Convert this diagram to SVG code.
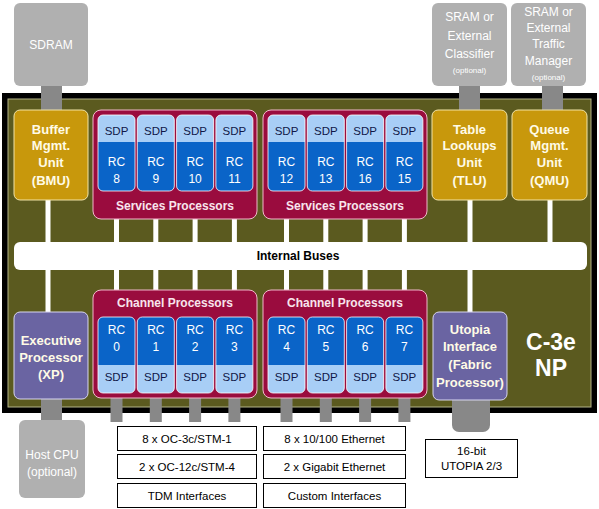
<svg xmlns="http://www.w3.org/2000/svg" xmlns:xlink="http://www.w3.org/1999/xlink" width="599" height="509" viewBox="0 0 599 509">
<style>
.ext{fill:#b0b0b0}
.extT{font-family:"Liberation Sans",Arial,sans-serif;font-size:12px;fill:#ffffff;text-anchor:middle}
.opt{font-family:"Liberation Sans",Arial,sans-serif;font-size:8px;fill:#ffffff;text-anchor:middle}
.gold{fill:#c8980c;stroke:#f3e4a6;stroke-width:1}
.purple{fill:#6a64a2;stroke:#d8d6f0;stroke-width:1}
.unitT{font-family:"Liberation Sans",Arial,sans-serif;font-size:13px;font-weight:bold;fill:#fffbe6;text-anchor:middle}
.grp{fill:#9a0c3e;stroke:#f2b8cc;stroke-width:1}
.grpT{font-family:"Liberation Sans",Arial,sans-serif;font-size:12px;font-weight:bold;fill:#f8e4ec;text-anchor:middle}
.light{fill:#a8cef6}
.blue{fill:#0a64c8}
.cellO{fill:none;stroke:#ffffff;stroke-width:0.8}
.sdpT{font-family:"Liberation Sans",Arial,sans-serif;font-size:11.5px;fill:#101848;text-anchor:middle}
.rcT{font-family:"Liberation Sans",Arial,sans-serif;font-size:12px;fill:#ffffff;text-anchor:middle}
.wl{stroke:#ffffff;stroke-width:5}
.gc{fill:#888888}
.ifb{fill:#ffffff;stroke:#000000;stroke-width:1}
.ifT{font-family:"Liberation Sans",Arial,sans-serif;font-size:11.5px;fill:#000000;text-anchor:middle}
</style>
<defs>
<g id="scell">
<path class="light" d="M0,5 a5,5 0 0 1 5,-5 h27 a5,5 0 0 1 5,5 v22 h-37 z"/>
<path class="blue" d="M0,27 h37 v44 a5,5 0 0 1 -5,5 h-27 a5,5 0 0 1 -5,-5 z"/>
<rect class="cellO" x="0" y="0" width="37" height="76" rx="5"/>
</g>
<g id="ccell">
<path class="blue" d="M0,5 a5,5 0 0 1 5,-5 h27 a5,5 0 0 1 5,5 v43 h-37 z"/>
<path class="light" d="M0,48 h37 v23 a5,5 0 0 1 -5,5 h-27 a5,5 0 0 1 -5,-5 z"/>
<rect class="cellO" x="0" y="0" width="37" height="76" rx="5"/>
</g>
</defs>

<rect id="chip-border" x="2" y="93" width="595" height="320" fill="#000000"/>
<rect id="chip" x="8" y="99" width="583" height="308" fill="#5b5a1f" stroke="#b4b48a" stroke-width="1"/>

<g id="connectors">
<line class="wl" x1="48" y1="200" x2="48" y2="312"/>
<line class="wl" x1="116.5" y1="218" x2="116.5" y2="290"/>
<line class="wl" x1="155.8" y1="218" x2="155.8" y2="290"/>
<line class="wl" x1="195.1" y1="218" x2="195.1" y2="290"/>
<line class="wl" x1="234.4" y1="218" x2="234.4" y2="290"/>
<line class="wl" x1="286.5" y1="218" x2="286.5" y2="290"/>
<line class="wl" x1="325.8" y1="218" x2="325.8" y2="290"/>
<line class="wl" x1="365.1" y1="218" x2="365.1" y2="290"/>
<line class="wl" x1="404.4" y1="218" x2="404.4" y2="290"/>
<line class="wl" x1="470" y1="200" x2="470" y2="312"/>
<line class="wl" x1="550" y1="200" x2="550" y2="242"/>
<rect class="gc" x="41" y="86" width="21" height="25"/>
<rect class="gc" x="459" y="86" width="21" height="25"/>
<rect class="gc" x="542" y="86" width="21" height="25"/>
<rect class="gc" x="41" y="398" width="21" height="23"/>
<rect class="gc" x="110.5" y="392" width="12" height="30"/>
<rect class="gc" x="149.8" y="392" width="12" height="30"/>
<rect class="gc" x="189.1" y="392" width="12" height="30"/>
<rect class="gc" x="228.4" y="392" width="12" height="30"/>
<rect class="gc" x="280.5" y="392" width="12" height="30"/>
<rect class="gc" x="319.8" y="392" width="12" height="30"/>
<rect class="gc" x="359.1" y="392" width="12" height="30"/>
<rect class="gc" x="398.4" y="392" width="12" height="30"/>
<path class="gc" d="M452,398 h38 v27 a7,7 0 0 1 -7,7 h-24 a7,7 0 0 1 -7,-7 z"/>
</g>

<g id="sdram">
<rect class="ext" x="14" y="3" width="74" height="83" rx="6"/>
<text class="extT" x="51" y="49">SDRAM</text>
</g>
<g id="sram-classifier">
<rect class="ext" x="432" y="3" width="75" height="83" rx="6"/>
<text class="extT" x="469.5" y="21">SRAM or</text>
<text class="extT" x="469.5" y="40">External</text>
<text class="extT" x="469.5" y="58">Classifier</text>
<text class="opt" x="469.5" y="73">(optional)</text>
</g>
<g id="sram-traffic">
<rect class="ext" x="511" y="3" width="75" height="83" rx="6"/>
<text class="extT" x="548.5" y="16">SRAM or</text>
<text class="extT" x="548.5" y="32">External</text>
<text class="extT" x="548.5" y="48">Traffic</text>
<text class="extT" x="548.5" y="65">Manager</text>
<text class="opt" x="548.5" y="80">(optional)</text>
</g>

<g id="bmu">
<rect class="gold" x="14" y="110" width="74" height="90" rx="6"/>
<text class="unitT" x="51" y="134">Buffer</text>
<text class="unitT" x="51" y="150">Mgmt.</text>
<text class="unitT" x="51" y="167">Unit</text>
<text class="unitT" x="51" y="185">(BMU)</text>
</g>
<g id="tlu">
<rect class="gold" x="432" y="110" width="75" height="90" rx="6"/>
<text class="unitT" x="469.5" y="134">Table</text>
<text class="unitT" x="469.5" y="150">Lookups</text>
<text class="unitT" x="469.5" y="167">Unit</text>
<text class="unitT" x="469.5" y="185">(TLU)</text>
</g>
<g id="qmu">
<rect class="gold" x="512" y="110" width="75" height="90" rx="6"/>
<text class="unitT" x="549.5" y="134">Queue</text>
<text class="unitT" x="549.5" y="150">Mgmt.</text>
<text class="unitT" x="549.5" y="167">Unit</text>
<text class="unitT" x="549.5" y="185">(QMU)</text>
</g>

<g id="services-1">
<rect class="grp" x="93" y="110" width="164" height="109" rx="8"/>
<use xlink:href="#scell" x="98" y="115"/>
<use xlink:href="#scell" x="137.3" y="115"/>
<use xlink:href="#scell" x="176.6" y="115"/>
<use xlink:href="#scell" x="215.9" y="115"/>
<text class="sdpT" x="116.5" y="135">SDP</text>
<text class="sdpT" x="155.8" y="135">SDP</text>
<text class="sdpT" x="195.1" y="135">SDP</text>
<text class="sdpT" x="234.4" y="135">SDP</text>
<text class="rcT" x="116.5" y="166">RC</text>
<text class="rcT" x="155.8" y="166">RC</text>
<text class="rcT" x="195.1" y="166">RC</text>
<text class="rcT" x="234.4" y="166">RC</text>
<text class="rcT" x="116.5" y="183">8</text>
<text class="rcT" x="155.8" y="183">9</text>
<text class="rcT" x="195.1" y="183">10</text>
<text class="rcT" x="234.4" y="183">11</text>
<text class="grpT" x="175" y="210">Services Processors</text>
</g>
<g id="services-2">
<rect class="grp" x="263" y="110" width="164" height="109" rx="8"/>
<use xlink:href="#scell" x="268" y="115"/>
<use xlink:href="#scell" x="307.3" y="115"/>
<use xlink:href="#scell" x="346.6" y="115"/>
<use xlink:href="#scell" x="385.9" y="115"/>
<text class="sdpT" x="286.5" y="135">SDP</text>
<text class="sdpT" x="325.8" y="135">SDP</text>
<text class="sdpT" x="365.1" y="135">SDP</text>
<text class="sdpT" x="404.4" y="135">SDP</text>
<text class="rcT" x="286.5" y="166">RC</text>
<text class="rcT" x="325.8" y="166">RC</text>
<text class="rcT" x="365.1" y="166">RC</text>
<text class="rcT" x="404.4" y="166">RC</text>
<text class="rcT" x="286.5" y="183">12</text>
<text class="rcT" x="325.8" y="183">13</text>
<text class="rcT" x="365.1" y="183">16</text>
<text class="rcT" x="404.4" y="183">15</text>
<text class="grpT" x="345" y="210">Services Processors</text>
</g>

<g id="internal-buses">
<rect x="14" y="242" width="573" height="28" rx="6" fill="#ffffff"/>
<text x="298" y="260" font-family="Liberation Sans,Arial,sans-serif" font-size="12" font-weight="bold" fill="#000000" text-anchor="middle">Internal Buses</text>
</g>

<g id="channel-1">
<rect class="grp" x="93" y="290" width="164" height="108" rx="8"/>
<use xlink:href="#ccell" x="98" y="317"/>
<use xlink:href="#ccell" x="137.3" y="317"/>
<use xlink:href="#ccell" x="176.6" y="317"/>
<use xlink:href="#ccell" x="215.9" y="317"/>
<text class="grpT" x="175" y="307">Channel Processors</text>
<text class="rcT" x="116.5" y="334">RC</text>
<text class="rcT" x="155.8" y="334">RC</text>
<text class="rcT" x="195.1" y="334">RC</text>
<text class="rcT" x="234.4" y="334">RC</text>
<text class="rcT" x="116.5" y="351">0</text>
<text class="rcT" x="155.8" y="351">1</text>
<text class="rcT" x="195.1" y="351">2</text>
<text class="rcT" x="234.4" y="351">3</text>
<text class="sdpT" x="116.5" y="381">SDP</text>
<text class="sdpT" x="155.8" y="381">SDP</text>
<text class="sdpT" x="195.1" y="381">SDP</text>
<text class="sdpT" x="234.4" y="381">SDP</text>
</g>
<g id="channel-2">
<rect class="grp" x="263" y="290" width="164" height="108" rx="8"/>
<use xlink:href="#ccell" x="268" y="317"/>
<use xlink:href="#ccell" x="307.3" y="317"/>
<use xlink:href="#ccell" x="346.6" y="317"/>
<use xlink:href="#ccell" x="385.9" y="317"/>
<text class="grpT" x="345" y="307">Channel Processors</text>
<text class="rcT" x="286.5" y="334">RC</text>
<text class="rcT" x="325.8" y="334">RC</text>
<text class="rcT" x="365.1" y="334">RC</text>
<text class="rcT" x="404.4" y="334">RC</text>
<text class="rcT" x="286.5" y="351">4</text>
<text class="rcT" x="325.8" y="351">5</text>
<text class="rcT" x="365.1" y="351">6</text>
<text class="rcT" x="404.4" y="351">7</text>
<text class="sdpT" x="286.5" y="381">SDP</text>
<text class="sdpT" x="325.8" y="381">SDP</text>
<text class="sdpT" x="365.1" y="381">SDP</text>
<text class="sdpT" x="404.4" y="381">SDP</text>
</g>

<g id="xp">
<rect class="purple" x="14" y="312" width="74" height="87" rx="6"/>
<text class="unitT" x="51" y="345">Executive</text>
<text class="unitT" x="51" y="362">Processor</text>
<text class="unitT" x="51" y="379">(XP)</text>
</g>
<g id="utopia">
<rect class="purple" x="433" y="312" width="74" height="88" rx="6"/>
<text class="unitT" x="470" y="334">Utopia</text>
<text class="unitT" x="470" y="351">Interface</text>
<text class="unitT" x="470" y="369">(Fabric</text>
<text class="unitT" x="470" y="387">Processor)</text>
</g>

<g id="chip-label">
<text x="551" y="350" font-family="Liberation Sans,Arial,sans-serif" font-size="23" font-weight="bold" fill="#ffffff" text-anchor="middle">C-3e</text>
<text x="551" y="376" font-family="Liberation Sans,Arial,sans-serif" font-size="23" font-weight="bold" fill="#ffffff" text-anchor="middle">NP</text>
</g>

<g id="host-cpu">
<rect class="ext" x="19" y="420" width="66" height="78" rx="6"/>
<text class="extT" x="52" y="459">Host CPU</text>
<text class="extT" x="52" y="476">(optional)</text>
</g>

<g id="if-oc3">
<rect class="ifb" x="117.5" y="426.5" width="139" height="24"/>
<text class="ifT" x="187" y="443">8 x OC-3c/STM-1</text>
</g>
<g id="if-oc12">
<rect class="ifb" x="117.5" y="454.5" width="139" height="24"/>
<text class="ifT" x="187" y="471">2 x OC-12c/STM-4</text>
</g>
<g id="if-tdm">
<rect class="ifb" x="117.5" y="483.5" width="139" height="24"/>
<text class="ifT" x="187" y="500">TDM Interfaces</text>
</g>
<g id="if-eth">
<rect class="ifb" x="263.5" y="426.5" width="142" height="24"/>
<text class="ifT" x="334.5" y="443">8 x 10/100 Ethernet</text>
</g>
<g id="if-gige">
<rect class="ifb" x="263.5" y="454.5" width="142" height="24"/>
<text class="ifT" x="334.5" y="471">2 x Gigabit Ethernet</text>
</g>
<g id="if-custom">
<rect class="ifb" x="263.5" y="483.5" width="142" height="24"/>
<text class="ifT" x="334.5" y="500">Custom Interfaces</text>
</g>
<g id="if-utopia">
<rect class="ifb" x="425.5" y="439.5" width="92" height="38"/>
<text class="ifT" x="471.5" y="455">16-bit</text>
<text class="ifT" x="471.5" y="470">UTOPIA 2/3</text>
</g>
</svg>
